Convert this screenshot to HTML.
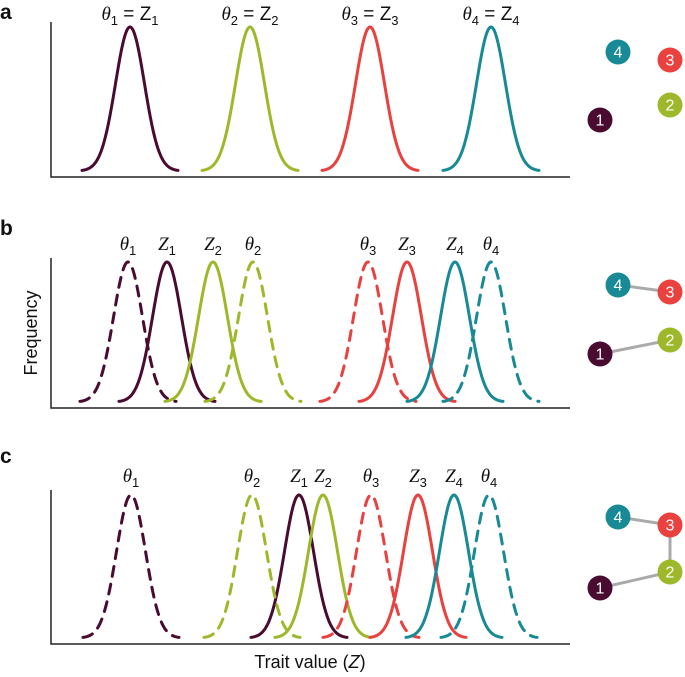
<!DOCTYPE html>
<html><head><meta charset="utf-8"><style>
body{margin:0;background:#fff}
svg{display:block;font-family:"Liberation Sans",sans-serif}
</style></head><body>
<svg id="fig" width="685" height="677" viewBox="0 0 685 677"></svg>
<script>
const seriesColors=["#4a0b30","#9db92b","#e8413f","#188a95"];
// panel a: theta = Z
const panelA_theta=[130,250,370,491];
const panelA_Z=[130,250,370,491];
// panel b
const panelB_theta=[128,253,368,491];
const panelB_Z=[167,213,407,455];
// panel c
const panelC_theta=[131,252,371,489];
const panelC_Z=[299,323,418,454];
const panels=[
 {id:"a",top:22,bottom:177,peak:27,theta:panelA_theta,Z:panelA_Z,same:true,labelY:20,letterY:12,
  nodes:[[600,120],[670,105],[670,60],[618,52]],edges:[]},
 {id:"b",top:258,bottom:408,peak:262,theta:panelB_theta,Z:panelB_Z,same:false,labelY:250,letterY:228,
  nodes:[[600,354],[670,340],[670,292],[618,285]],edges:[[3,2],[0,1]]},
 {id:"c",top:490,bottom:644,peak:495,theta:panelC_theta,Z:panelC_Z,same:false,labelY:482,letterY:456,
  nodes:[[600,588],[670,572],[670,525],[618,517]],edges:[[3,2],[2,1],[1,0]]}
];
const svg=document.getElementById('fig');
const NS="http://www.w3.org/2000/svg";
function mk(tag,attrs,parent){const e=document.createElementNS(NS,tag);for(const k in attrs)e.setAttribute(k,attrs[k]);(parent||svg).appendChild(e);return e;}
const sigma=14.5, half=48;
function curve(cx,peak,base,color,dashed,name){
  let d="";
  for(let x=-half;x<=half;x+=1){
    const y=base-(base-peak)*Math.exp(-(x*x)/(2*sigma*sigma));
    d+=(x===-half?"M":"L")+(cx+x).toFixed(1)+","+y.toFixed(1);
  }
  const p=mk('path',{d:d,fill:"none",stroke:color,"stroke-width":3,"stroke-linecap":"round"});
  if(dashed)p.setAttribute('stroke-dasharray',"10 8");
  
  
}
function label(x,y,sym,sub,extra,name){
  const t=mk('text',{x:x,y:y,"text-anchor":"middle","font-size":19,fill:"#111"});
  
  
  const s1=mk('tspan',{"font-family":"Liberation Serif, serif","font-style":"italic"},t);s1.textContent=sym;
  const s2=mk('tspan',{dy:5,"font-size":13},t);s2.textContent=sub;
  if(extra){const s3=mk('tspan',{dy:-5},t);s3.textContent=extra[0];
    const s4=mk('tspan',{},t);s4.textContent=extra[1];
    const s5=mk('tspan',{dy:5,"font-size":13},t);s5.textContent=sub;}
}
panels.forEach(p=>{
  const base=p.bottom-6;
  const lt=mk('text',{x:0,y:p.letterY+7,"font-size":21,"font-weight":"bold",fill:"#111"});
  lt.textContent=p.id;
  
  
  const ax=mk('path',{d:`M51,${p.top}V${p.bottom}H570`,fill:"none",stroke:"#222","stroke-width":1.5});
  
  
  for(let i=0;i<4;i++){
    if(p.same){
      curve(p.Z[i],p.peak,base,seriesColors[i],false,'curve-'+p.id+'-'+(i+1));
      label(p.Z[i],p.labelY,"θ",String(i+1),[" = ","Z"],'label-'+p.id+'-'+(i+1));
    }else{
      curve(p.theta[i],p.peak,base,seriesColors[i],true,'optimum-curve-'+p.id+'-'+(i+1));
      curve(p.Z[i],p.peak,base,seriesColors[i],false,'trait-curve-'+p.id+'-'+(i+1));
      label(p.theta[i],p.labelY,"θ",String(i+1),null,'theta-label-'+p.id+'-'+(i+1));
      label(p.Z[i],p.labelY,"Z",String(i+1),null,'z-label-'+p.id+'-'+(i+1));
    }
  }
  p.edges.forEach(e=>{
    const a=p.nodes[e[0]],b=p.nodes[e[1]];
    const l=mk('line',{x1:a[0],y1:a[1],x2:b[0],y2:b[1],stroke:"#aaa","stroke-width":3});
    
    
  });
  p.nodes.forEach((n,i)=>{
    const c=mk('circle',{cx:n[0],cy:n[1],r:12.5,fill:seriesColors[i]});
    
    
    const t=mk('text',{x:n[0],y:n[1]+5.5,"text-anchor":"middle","font-size":16,fill:"#fff"});
    t.textContent=String(i+1);
  });
});
const yl=mk('text',{x:0,y:0,transform:"translate(37,333) rotate(-90)","text-anchor":"middle","font-size":18,fill:"#111"});
yl.textContent="Frequency";


const xl=mk('text',{x:310,y:668,"text-anchor":"middle","font-size":18,fill:"#111"});


xl.innerHTML='Trait value (<tspan font-style="italic">Z</tspan>)';
</script>
</body></html>
